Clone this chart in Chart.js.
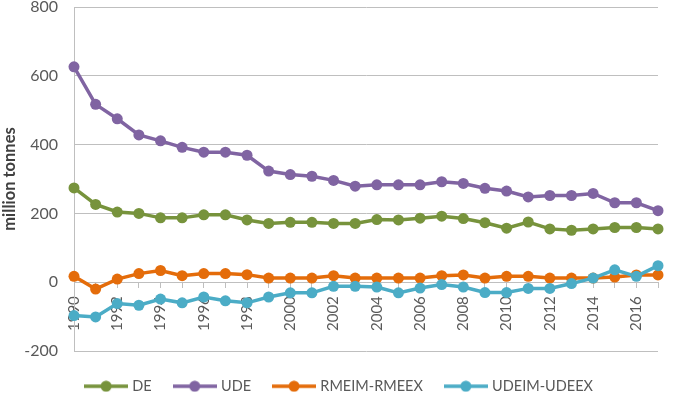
<!DOCTYPE html>
<html>
<head>
<meta charset="utf-8">
<script src="https://cdn.jsdelivr.net/npm/chart.js@4.4.1/dist/chart.umd.min.js"></script>
<style>
  html, body { margin: 0; padding: 0; background: #fff; }
  #wrap { width: 685px; height: 397px; }
</style>
</head>
<body>
<div id="wrap"><canvas id="c" width="685" height="397"></canvas></div>
<script>
const FONT = 'Lato, "Open Sans", sans-serif';
const TEXT = '#595959';
const GRID = '#bfbfbf';

const years = ['1990', '1991', '1992', '1993', '1994', '1995', '1996', '1997', '1998', '1999',
  '2000', '2001', '2002', '2003', '2004', '2005', '2006', '2007', '2008', '2009',
  '2010', '2011', '2012', '2013', '2014', '2015', '2016', '2017'];

const de = [274, 226, 204, 200, 187, 187, 196, 196, 181, 171,
  174, 174, 171, 171, 182, 181, 186, 192, 185, 173,
  157, 175, 155, 151, 155, 159, 159, 155];
const ude = [626, 517, 475, 428, 411, 392, 378, 378, 369, 323,
  313, 308, 296, 279, 283, 283, 283, 292, 287, 273,
  265, 248, 252, 252, 258, 231, 231, 208];
const rmeNet = [17, -20, 9, 25, 34, 19, 25, 25, 22, 12,
  12, 12, 19, 12, 12, 12, 12, 19, 21, 12,
  17, 17, 12, 12, 12, 15, 21, 21];
const udeNet = [-97, -101, -62, -67, -49, -60, -43, -54, -60, -43,
  -31, -31, -12, -12, -14, -31, -17, -7, -14, -30,
  -30, -18, -18, -4, 12, 36, 17, 48];

const yTicks = [-200, 0, 200, 400, 600, 800];

// line + dot swatch used as the legend point style
function swatch(color) {
  const cv = document.createElement('canvas');
  cv.width = 44;
  cv.height = 12;
  const g = cv.getContext('2d');
  g.strokeStyle = color;
  g.lineWidth = 3.5;
  g.beginPath();
  g.moveTo(0, 6);
  g.lineTo(44, 6);
  g.stroke();
  g.fillStyle = color;
  g.beginPath();
  g.arc(22, 6, 5.5, 0, Math.PI * 2);
  g.fill();
  return cv;
}

const ds = (label, data, color, order) => ({
  label,
  data,
  borderColor: color,
  backgroundColor: color,
  pointBackgroundColor: color,
  pointBorderColor: color,
  pointRadius: 5.5,
  pointBorderWidth: 0,
  borderWidth: 3.5,
  tension: 0,
  clip: false,
  order,
  swatch: swatch(color),
});

// fixed legend strip below the plot, nudged down a little
const legendStrip = {
  id: 'legendStrip',
  beforeInit(chart) {
    const fit = chart.legend.fit;
    chart.legend.fit = function () {
      fit.bind(chart.legend)();
      this.height = 46;
    };
  },
  afterLayout(chart) {
    chart.legend.top += 4;
    chart.legend.bottom += 4;
  },
};

new Chart(document.getElementById('c'), {
  type: 'line',
  data: {
    labels: years,
    datasets: [
      ds('DE', de, '#77933c', 3),
      ds('UDE', ude, '#8064a2', 2),
      ds('RMEIM-RMEEX', rmeNet, '#e46c0a', 1),
      ds('UDEIM-UDEEX', udeNet, '#4bacc6', 0),
    ],
  },
  options: {
    responsive: false,
    animation: false,
    layout: { padding: { left: 0, right: 5, top: 7, bottom: 0 } },
    plugins: {
      tooltip: { enabled: false },
      legend: {
        position: 'bottom',
        labels: {
          color: TEXT,
          font: { family: FONT, size: 14.5 },
          usePointStyle: true,
          pointStyleWidth: 38,
          padding: 24,
          sort: (a, b) => a.datasetIndex - b.datasetIndex,
          generateLabels(chart) {
            const items = Chart.defaults.plugins.legend.labels.generateLabels(chart);
            items.forEach((it) => { it.pointStyle = chart.data.datasets[it.datasetIndex].swatch; });
            return items;
          },
        },
      },
    },
    scales: {
      x: {
        position: { y: 0 },
        grid: { display: true, drawOnChartArea: false, drawTicks: true, tickLength: 5, color: GRID },
        border: { display: true, color: GRID, width: 1 },
        ticks: {
          autoSkip: false,
          minRotation: 90,
          maxRotation: 90,
          padding: 9,
          color: TEXT,
          font: { family: FONT, size: 15 },
          callback: (v, i) => (i % 2 === 0 ? years[i] : ''),
        },
      },
      y: {
        min: -200,
        max: 800,
        afterBuildTicks: (s) => { s.ticks = yTicks.map((v) => ({ value: v })); },
        afterFit: (s) => { s.width = 74; },
        grid: { color: GRID, drawTicks: true, tickLength: 16, tickColor: 'rgba(0,0,0,0)' },
        border: { display: true, color: GRID },
        title: {
          display: true,
          text: 'million tonnes',
          color: '#404040',
          font: { family: FONT, size: 16.5, weight: 'bold', lineHeight: 1 },
          padding: { top: 1, bottom: 0 },
        },
        ticks: {
          padding: 0,
          color: TEXT,
          font: { family: FONT, size: 16, lineHeight: 0.85 },
        },
      },
    },
  },
  plugins: [legendStrip],
});
</script>
</body>
</html>
